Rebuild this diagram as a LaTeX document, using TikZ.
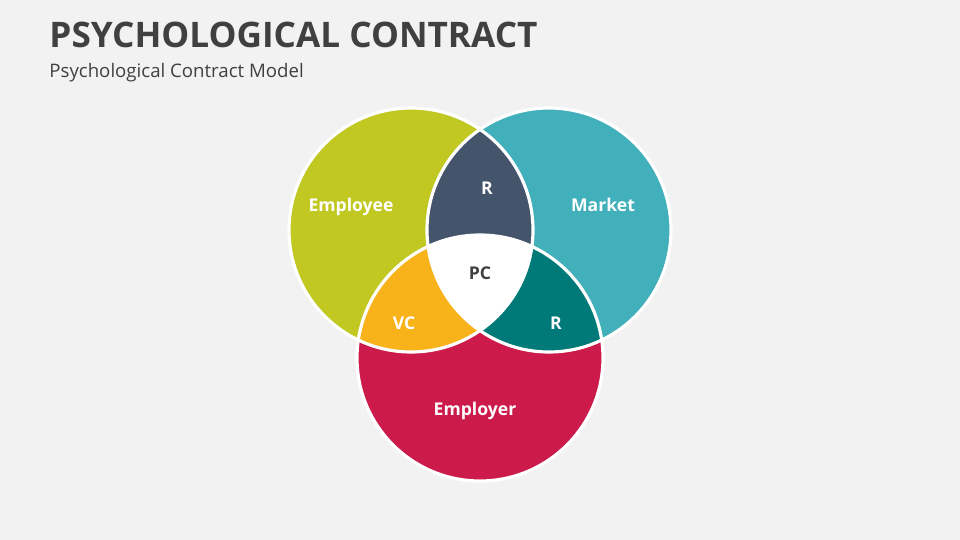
\documentclass[tikz,border=0pt]{standalone}
\usepackage{fontspec}
\setmainfont{Open Sans}
\definecolor{bg}{HTML}{F2F2F2}
\definecolor{cgreen}{HTML}{C1C822}
\definecolor{cteal}{HTML}{41B0BA}
\definecolor{cred}{HTML}{CC1A4A}
\definecolor{cslate}{HTML}{44546A}
\definecolor{corange}{HTML}{F9B31A}
\definecolor{cdteal}{HTML}{007A78}
\definecolor{ctext}{HTML}{404040}
\begin{document}
\begin{tikzpicture}[x=0.01cm,y=-0.01cm,
  lbl/.style={font=\bfseries\fontsize{5pt}{6pt}\selectfont,text=white},
  outl/.style={draw=white,line width=0.9pt}]
\fill[bg] (0,0) rectangle (960,540);
\useasboundingbox (0,0) rectangle (960,540);
\node[anchor=west,font=\bfseries\fontsize{10pt}{12pt}\selectfont,text=ctext] (title) at (37,35) {PSYCHOLOGICAL CONTRACT};
\node[anchor=west,font=\fontsize{5.3pt}{6pt}\selectfont,text=ctext] (sub) at (37,73) {Psychological Contract Model};
\def\cA{(411,230) circle (122)}
\def\cB{(549,230) circle (122)}
\def\cC{(480,358) circle (123)}
\fill[cgreen] \cA;
\fill[cteal] \cB;
\fill[cred] \cC;
\begin{scope}\clip \cA; \fill[cslate] \cB; \fill[corange] \cC;\end{scope}
\begin{scope}\clip \cB; \fill[cdteal] \cC;\end{scope}
\begin{scope}\clip \cA; \clip \cB; \fill[white] \cC;\end{scope}
\draw[outl] \cA; \draw[outl] \cB; \draw[outl] \cC;
\node[lbl] (emp) at (351,207) {Employee};
\node[lbl] (mkt) at (603,205) {Market};
\node[lbl] (r1) at (487,188) {R};
\node[lbl,text=ctext] (pc) at (480,273) {PC};
\node[lbl] (vc) at (404,323) {VC};
\node[lbl] (r2) at (556,323) {R};
\node[lbl] (er) at (475,411) {Employer};
\end{tikzpicture}
\end{document}
